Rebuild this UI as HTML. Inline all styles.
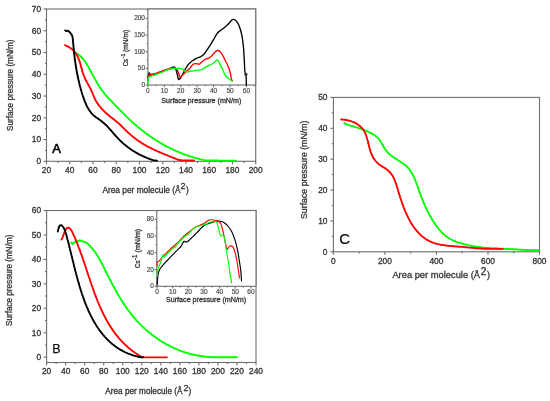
<!DOCTYPE html>
<html><head><meta charset="utf-8"><style>
html,body{margin:0;padding:0;background:#fff;width:550px;height:401px;overflow:hidden}
svg{display:block;filter:blur(0.3px)}
text{font-family:'Liberation Sans', Arial, Helvetica, sans-serif;fill:#333;stroke:#333;stroke-width:0.3px}
text.it{fill:#444;stroke:#444;stroke-width:0.15px}
</style></head><body>
<svg width="550" height="401" viewBox="0 0 550 401">
<rect width="550" height="401" fill="#fff"/>
<rect x="46.5" y="9.0" width="209.20" height="152.30" fill="none" stroke="#6e6e6e" stroke-width="1.1"/>
<line x1="46.50" y1="161.3" x2="46.50" y2="164.3" stroke="#6e6e6e" stroke-width="1.1"/>
<line x1="69.74" y1="161.3" x2="69.74" y2="164.3" stroke="#6e6e6e" stroke-width="1.1"/>
<line x1="92.99" y1="161.3" x2="92.99" y2="164.3" stroke="#6e6e6e" stroke-width="1.1"/>
<line x1="116.23" y1="161.3" x2="116.23" y2="164.3" stroke="#6e6e6e" stroke-width="1.1"/>
<line x1="139.48" y1="161.3" x2="139.48" y2="164.3" stroke="#6e6e6e" stroke-width="1.1"/>
<line x1="162.72" y1="161.3" x2="162.72" y2="164.3" stroke="#6e6e6e" stroke-width="1.1"/>
<line x1="185.97" y1="161.3" x2="185.97" y2="164.3" stroke="#6e6e6e" stroke-width="1.1"/>
<line x1="209.21" y1="161.3" x2="209.21" y2="164.3" stroke="#6e6e6e" stroke-width="1.1"/>
<line x1="232.46" y1="161.3" x2="232.46" y2="164.3" stroke="#6e6e6e" stroke-width="1.1"/>
<line x1="255.70" y1="161.3" x2="255.70" y2="164.3" stroke="#6e6e6e" stroke-width="1.1"/>
<line x1="58.12" y1="161.3" x2="58.12" y2="162.9" stroke="#6e6e6e" stroke-width="1.1"/>
<line x1="81.37" y1="161.3" x2="81.37" y2="162.9" stroke="#6e6e6e" stroke-width="1.1"/>
<line x1="104.61" y1="161.3" x2="104.61" y2="162.9" stroke="#6e6e6e" stroke-width="1.1"/>
<line x1="127.86" y1="161.3" x2="127.86" y2="162.9" stroke="#6e6e6e" stroke-width="1.1"/>
<line x1="151.10" y1="161.3" x2="151.10" y2="162.9" stroke="#6e6e6e" stroke-width="1.1"/>
<line x1="174.34" y1="161.3" x2="174.34" y2="162.9" stroke="#6e6e6e" stroke-width="1.1"/>
<line x1="197.59" y1="161.3" x2="197.59" y2="162.9" stroke="#6e6e6e" stroke-width="1.1"/>
<line x1="220.83" y1="161.3" x2="220.83" y2="162.9" stroke="#6e6e6e" stroke-width="1.1"/>
<line x1="244.08" y1="161.3" x2="244.08" y2="162.9" stroke="#6e6e6e" stroke-width="1.1"/>
<line x1="43.5" y1="161.30" x2="46.5" y2="161.30" stroke="#6e6e6e" stroke-width="1.1"/>
<line x1="43.5" y1="139.54" x2="46.5" y2="139.54" stroke="#6e6e6e" stroke-width="1.1"/>
<line x1="43.5" y1="117.79" x2="46.5" y2="117.79" stroke="#6e6e6e" stroke-width="1.1"/>
<line x1="43.5" y1="96.03" x2="46.5" y2="96.03" stroke="#6e6e6e" stroke-width="1.1"/>
<line x1="43.5" y1="74.27" x2="46.5" y2="74.27" stroke="#6e6e6e" stroke-width="1.1"/>
<line x1="43.5" y1="52.51" x2="46.5" y2="52.51" stroke="#6e6e6e" stroke-width="1.1"/>
<line x1="43.5" y1="30.76" x2="46.5" y2="30.76" stroke="#6e6e6e" stroke-width="1.1"/>
<line x1="43.5" y1="9.00" x2="46.5" y2="9.00" stroke="#6e6e6e" stroke-width="1.1"/>
<line x1="44.9" y1="150.42" x2="46.5" y2="150.42" stroke="#6e6e6e" stroke-width="1.1"/>
<line x1="44.9" y1="128.66" x2="46.5" y2="128.66" stroke="#6e6e6e" stroke-width="1.1"/>
<line x1="44.9" y1="106.91" x2="46.5" y2="106.91" stroke="#6e6e6e" stroke-width="1.1"/>
<line x1="44.9" y1="85.15" x2="46.5" y2="85.15" stroke="#6e6e6e" stroke-width="1.1"/>
<line x1="44.9" y1="63.39" x2="46.5" y2="63.39" stroke="#6e6e6e" stroke-width="1.1"/>
<line x1="44.9" y1="41.64" x2="46.5" y2="41.64" stroke="#6e6e6e" stroke-width="1.1"/>
<line x1="44.9" y1="19.88" x2="46.5" y2="19.88" stroke="#6e6e6e" stroke-width="1.1"/>
<text x="46.50" y="172.9" font-size="8.4" text-anchor="middle">20</text>
<text x="69.74" y="172.9" font-size="8.4" text-anchor="middle">40</text>
<text x="92.99" y="172.9" font-size="8.4" text-anchor="middle">60</text>
<text x="116.23" y="172.9" font-size="8.4" text-anchor="middle">80</text>
<text x="139.48" y="172.9" font-size="8.4" text-anchor="middle">100</text>
<text x="162.72" y="172.9" font-size="8.4" text-anchor="middle">120</text>
<text x="185.97" y="172.9" font-size="8.4" text-anchor="middle">140</text>
<text x="209.21" y="172.9" font-size="8.4" text-anchor="middle">160</text>
<text x="232.46" y="172.9" font-size="8.4" text-anchor="middle">180</text>
<text x="255.70" y="172.9" font-size="8.4" text-anchor="middle">200</text>
<text x="41.2" y="164.16" font-size="8.4" text-anchor="end">0</text>
<text x="41.2" y="142.40" font-size="8.4" text-anchor="end">10</text>
<text x="41.2" y="120.64" font-size="8.4" text-anchor="end">20</text>
<text x="41.2" y="98.88" font-size="8.4" text-anchor="end">30</text>
<text x="41.2" y="77.13" font-size="8.4" text-anchor="end">40</text>
<text x="41.2" y="55.37" font-size="8.4" text-anchor="end">50</text>
<text x="41.2" y="33.61" font-size="8.4" text-anchor="end">60</text>
<text x="41.2" y="11.86" font-size="8.4" text-anchor="end">70</text>
<rect x="147.9" y="9.0" width="107.80" height="76.00" fill="#fff"/>
<rect x="147.9" y="9.0" width="107.80" height="76.00" fill="none" stroke="#6e6e6e" stroke-width="1.1"/>
<line x1="147.90" y1="85.0" x2="147.90" y2="87.2" stroke="#6e6e6e" stroke-width="1.1"/>
<line x1="164.32" y1="85.0" x2="164.32" y2="87.2" stroke="#6e6e6e" stroke-width="1.1"/>
<line x1="180.74" y1="85.0" x2="180.74" y2="87.2" stroke="#6e6e6e" stroke-width="1.1"/>
<line x1="197.16" y1="85.0" x2="197.16" y2="87.2" stroke="#6e6e6e" stroke-width="1.1"/>
<line x1="213.58" y1="85.0" x2="213.58" y2="87.2" stroke="#6e6e6e" stroke-width="1.1"/>
<line x1="230.00" y1="85.0" x2="230.00" y2="87.2" stroke="#6e6e6e" stroke-width="1.1"/>
<line x1="246.42" y1="85.0" x2="246.42" y2="87.2" stroke="#6e6e6e" stroke-width="1.1"/>
<line x1="156.11" y1="85.0" x2="156.11" y2="86.2" stroke="#6e6e6e" stroke-width="1.1"/>
<line x1="172.53" y1="85.0" x2="172.53" y2="86.2" stroke="#6e6e6e" stroke-width="1.1"/>
<line x1="188.95" y1="85.0" x2="188.95" y2="86.2" stroke="#6e6e6e" stroke-width="1.1"/>
<line x1="205.37" y1="85.0" x2="205.37" y2="86.2" stroke="#6e6e6e" stroke-width="1.1"/>
<line x1="221.79" y1="85.0" x2="221.79" y2="86.2" stroke="#6e6e6e" stroke-width="1.1"/>
<line x1="238.21" y1="85.0" x2="238.21" y2="86.2" stroke="#6e6e6e" stroke-width="1.1"/>
<line x1="254.63" y1="85.0" x2="254.63" y2="86.2" stroke="#6e6e6e" stroke-width="1.1"/>
<line x1="145.70000000000002" y1="85.00" x2="147.9" y2="85.00" stroke="#6e6e6e" stroke-width="1.1"/>
<line x1="145.70000000000002" y1="68.38" x2="147.9" y2="68.38" stroke="#6e6e6e" stroke-width="1.1"/>
<line x1="145.70000000000002" y1="51.75" x2="147.9" y2="51.75" stroke="#6e6e6e" stroke-width="1.1"/>
<line x1="145.70000000000002" y1="35.12" x2="147.9" y2="35.12" stroke="#6e6e6e" stroke-width="1.1"/>
<line x1="145.70000000000002" y1="18.50" x2="147.9" y2="18.50" stroke="#6e6e6e" stroke-width="1.1"/>
<line x1="146.70000000000002" y1="76.69" x2="147.9" y2="76.69" stroke="#6e6e6e" stroke-width="1.1"/>
<line x1="146.70000000000002" y1="60.06" x2="147.9" y2="60.06" stroke="#6e6e6e" stroke-width="1.1"/>
<line x1="146.70000000000002" y1="43.44" x2="147.9" y2="43.44" stroke="#6e6e6e" stroke-width="1.1"/>
<line x1="146.70000000000002" y1="26.81" x2="147.9" y2="26.81" stroke="#6e6e6e" stroke-width="1.1"/>
<line x1="146.70000000000002" y1="10.19" x2="147.9" y2="10.19" stroke="#6e6e6e" stroke-width="1.1"/>
<text class="it" x="147.90" y="93.0" font-size="6.5" text-anchor="middle">0</text>
<text class="it" x="164.32" y="93.0" font-size="6.5" text-anchor="middle">10</text>
<text class="it" x="180.74" y="93.0" font-size="6.5" text-anchor="middle">20</text>
<text class="it" x="197.16" y="93.0" font-size="6.5" text-anchor="middle">30</text>
<text class="it" x="213.58" y="93.0" font-size="6.5" text-anchor="middle">40</text>
<text class="it" x="230.00" y="93.0" font-size="6.5" text-anchor="middle">50</text>
<text class="it" x="246.42" y="93.0" font-size="6.5" text-anchor="middle">60</text>
<text class="it" x="145.0" y="86.95" font-size="6.5" text-anchor="end">0</text>
<text class="it" x="145.0" y="70.33" font-size="6.5" text-anchor="end">50</text>
<text class="it" x="145.0" y="53.70" font-size="6.5" text-anchor="end">100</text>
<text class="it" x="145.0" y="37.08" font-size="6.5" text-anchor="end">150</text>
<text class="it" x="145.0" y="20.45" font-size="6.5" text-anchor="end">200</text>
<rect x="46.6" y="210.5" width="209.40" height="152.00" fill="none" stroke="#6e6e6e" stroke-width="1.1"/>
<line x1="46.60" y1="362.5" x2="46.60" y2="365.5" stroke="#6e6e6e" stroke-width="1.1"/>
<line x1="65.64" y1="362.5" x2="65.64" y2="365.5" stroke="#6e6e6e" stroke-width="1.1"/>
<line x1="84.67" y1="362.5" x2="84.67" y2="365.5" stroke="#6e6e6e" stroke-width="1.1"/>
<line x1="103.71" y1="362.5" x2="103.71" y2="365.5" stroke="#6e6e6e" stroke-width="1.1"/>
<line x1="122.75" y1="362.5" x2="122.75" y2="365.5" stroke="#6e6e6e" stroke-width="1.1"/>
<line x1="141.78" y1="362.5" x2="141.78" y2="365.5" stroke="#6e6e6e" stroke-width="1.1"/>
<line x1="160.82" y1="362.5" x2="160.82" y2="365.5" stroke="#6e6e6e" stroke-width="1.1"/>
<line x1="179.85" y1="362.5" x2="179.85" y2="365.5" stroke="#6e6e6e" stroke-width="1.1"/>
<line x1="198.89" y1="362.5" x2="198.89" y2="365.5" stroke="#6e6e6e" stroke-width="1.1"/>
<line x1="217.93" y1="362.5" x2="217.93" y2="365.5" stroke="#6e6e6e" stroke-width="1.1"/>
<line x1="236.96" y1="362.5" x2="236.96" y2="365.5" stroke="#6e6e6e" stroke-width="1.1"/>
<line x1="256.00" y1="362.5" x2="256.00" y2="365.5" stroke="#6e6e6e" stroke-width="1.1"/>
<line x1="56.12" y1="362.5" x2="56.12" y2="364.1" stroke="#6e6e6e" stroke-width="1.1"/>
<line x1="75.15" y1="362.5" x2="75.15" y2="364.1" stroke="#6e6e6e" stroke-width="1.1"/>
<line x1="94.19" y1="362.5" x2="94.19" y2="364.1" stroke="#6e6e6e" stroke-width="1.1"/>
<line x1="113.23" y1="362.5" x2="113.23" y2="364.1" stroke="#6e6e6e" stroke-width="1.1"/>
<line x1="132.26" y1="362.5" x2="132.26" y2="364.1" stroke="#6e6e6e" stroke-width="1.1"/>
<line x1="151.30" y1="362.5" x2="151.30" y2="364.1" stroke="#6e6e6e" stroke-width="1.1"/>
<line x1="170.34" y1="362.5" x2="170.34" y2="364.1" stroke="#6e6e6e" stroke-width="1.1"/>
<line x1="189.37" y1="362.5" x2="189.37" y2="364.1" stroke="#6e6e6e" stroke-width="1.1"/>
<line x1="208.41" y1="362.5" x2="208.41" y2="364.1" stroke="#6e6e6e" stroke-width="1.1"/>
<line x1="227.45" y1="362.5" x2="227.45" y2="364.1" stroke="#6e6e6e" stroke-width="1.1"/>
<line x1="246.48" y1="362.5" x2="246.48" y2="364.1" stroke="#6e6e6e" stroke-width="1.1"/>
<line x1="43.6" y1="357.20" x2="46.6" y2="357.20" stroke="#6e6e6e" stroke-width="1.1"/>
<line x1="43.6" y1="332.75" x2="46.6" y2="332.75" stroke="#6e6e6e" stroke-width="1.1"/>
<line x1="43.6" y1="308.30" x2="46.6" y2="308.30" stroke="#6e6e6e" stroke-width="1.1"/>
<line x1="43.6" y1="283.85" x2="46.6" y2="283.85" stroke="#6e6e6e" stroke-width="1.1"/>
<line x1="43.6" y1="259.40" x2="46.6" y2="259.40" stroke="#6e6e6e" stroke-width="1.1"/>
<line x1="43.6" y1="234.95" x2="46.6" y2="234.95" stroke="#6e6e6e" stroke-width="1.1"/>
<line x1="43.6" y1="210.50" x2="46.6" y2="210.50" stroke="#6e6e6e" stroke-width="1.1"/>
<line x1="45.0" y1="344.97" x2="46.6" y2="344.97" stroke="#6e6e6e" stroke-width="1.1"/>
<line x1="45.0" y1="320.52" x2="46.6" y2="320.52" stroke="#6e6e6e" stroke-width="1.1"/>
<line x1="45.0" y1="296.07" x2="46.6" y2="296.07" stroke="#6e6e6e" stroke-width="1.1"/>
<line x1="45.0" y1="271.62" x2="46.6" y2="271.62" stroke="#6e6e6e" stroke-width="1.1"/>
<line x1="45.0" y1="247.18" x2="46.6" y2="247.18" stroke="#6e6e6e" stroke-width="1.1"/>
<line x1="45.0" y1="222.72" x2="46.6" y2="222.72" stroke="#6e6e6e" stroke-width="1.1"/>
<text x="46.60" y="373.8" font-size="8.4" text-anchor="middle">20</text>
<text x="65.64" y="373.8" font-size="8.4" text-anchor="middle">40</text>
<text x="84.67" y="373.8" font-size="8.4" text-anchor="middle">60</text>
<text x="103.71" y="373.8" font-size="8.4" text-anchor="middle">80</text>
<text x="122.75" y="373.8" font-size="8.4" text-anchor="middle">100</text>
<text x="141.78" y="373.8" font-size="8.4" text-anchor="middle">120</text>
<text x="160.82" y="373.8" font-size="8.4" text-anchor="middle">140</text>
<text x="179.85" y="373.8" font-size="8.4" text-anchor="middle">160</text>
<text x="198.89" y="373.8" font-size="8.4" text-anchor="middle">180</text>
<text x="217.93" y="373.8" font-size="8.4" text-anchor="middle">200</text>
<text x="236.96" y="373.8" font-size="8.4" text-anchor="middle">220</text>
<text x="256.00" y="373.8" font-size="8.4" text-anchor="middle">240</text>
<text x="41.2" y="360.06" font-size="8.4" text-anchor="end">0</text>
<text x="41.2" y="335.61" font-size="8.4" text-anchor="end">10</text>
<text x="41.2" y="311.16" font-size="8.4" text-anchor="end">20</text>
<text x="41.2" y="286.71" font-size="8.4" text-anchor="end">30</text>
<text x="41.2" y="262.26" font-size="8.4" text-anchor="end">40</text>
<text x="41.2" y="237.81" font-size="8.4" text-anchor="end">50</text>
<text x="41.2" y="213.36" font-size="8.4" text-anchor="end">60</text>
<rect x="156.8" y="210.5" width="99.20" height="75.80" fill="#fff"/>
<rect x="156.8" y="210.5" width="99.20" height="75.80" fill="none" stroke="#6e6e6e" stroke-width="1.1"/>
<line x1="157.00" y1="286.3" x2="157.00" y2="288.5" stroke="#6e6e6e" stroke-width="1.1"/>
<line x1="172.65" y1="286.3" x2="172.65" y2="288.5" stroke="#6e6e6e" stroke-width="1.1"/>
<line x1="188.30" y1="286.3" x2="188.30" y2="288.5" stroke="#6e6e6e" stroke-width="1.1"/>
<line x1="203.95" y1="286.3" x2="203.95" y2="288.5" stroke="#6e6e6e" stroke-width="1.1"/>
<line x1="219.60" y1="286.3" x2="219.60" y2="288.5" stroke="#6e6e6e" stroke-width="1.1"/>
<line x1="235.25" y1="286.3" x2="235.25" y2="288.5" stroke="#6e6e6e" stroke-width="1.1"/>
<line x1="250.90" y1="286.3" x2="250.90" y2="288.5" stroke="#6e6e6e" stroke-width="1.1"/>
<line x1="164.82" y1="286.3" x2="164.82" y2="287.5" stroke="#6e6e6e" stroke-width="1.1"/>
<line x1="180.47" y1="286.3" x2="180.47" y2="287.5" stroke="#6e6e6e" stroke-width="1.1"/>
<line x1="196.12" y1="286.3" x2="196.12" y2="287.5" stroke="#6e6e6e" stroke-width="1.1"/>
<line x1="211.78" y1="286.3" x2="211.78" y2="287.5" stroke="#6e6e6e" stroke-width="1.1"/>
<line x1="227.43" y1="286.3" x2="227.43" y2="287.5" stroke="#6e6e6e" stroke-width="1.1"/>
<line x1="243.07" y1="286.3" x2="243.07" y2="287.5" stroke="#6e6e6e" stroke-width="1.1"/>
<line x1="154.60000000000002" y1="286.30" x2="156.8" y2="286.30" stroke="#6e6e6e" stroke-width="1.1"/>
<line x1="154.60000000000002" y1="269.55" x2="156.8" y2="269.55" stroke="#6e6e6e" stroke-width="1.1"/>
<line x1="154.60000000000002" y1="252.80" x2="156.8" y2="252.80" stroke="#6e6e6e" stroke-width="1.1"/>
<line x1="154.60000000000002" y1="236.05" x2="156.8" y2="236.05" stroke="#6e6e6e" stroke-width="1.1"/>
<line x1="154.60000000000002" y1="219.30" x2="156.8" y2="219.30" stroke="#6e6e6e" stroke-width="1.1"/>
<line x1="155.60000000000002" y1="277.93" x2="156.8" y2="277.93" stroke="#6e6e6e" stroke-width="1.1"/>
<line x1="155.60000000000002" y1="261.18" x2="156.8" y2="261.18" stroke="#6e6e6e" stroke-width="1.1"/>
<line x1="155.60000000000002" y1="244.43" x2="156.8" y2="244.43" stroke="#6e6e6e" stroke-width="1.1"/>
<line x1="155.60000000000002" y1="227.68" x2="156.8" y2="227.68" stroke="#6e6e6e" stroke-width="1.1"/>
<text class="it" x="157.00" y="294.2" font-size="6.5" text-anchor="middle">0</text>
<text class="it" x="172.65" y="294.2" font-size="6.5" text-anchor="middle">10</text>
<text class="it" x="188.30" y="294.2" font-size="6.5" text-anchor="middle">20</text>
<text class="it" x="203.95" y="294.2" font-size="6.5" text-anchor="middle">30</text>
<text class="it" x="219.60" y="294.2" font-size="6.5" text-anchor="middle">40</text>
<text class="it" x="235.25" y="294.2" font-size="6.5" text-anchor="middle">50</text>
<text class="it" x="250.90" y="294.2" font-size="6.5" text-anchor="middle">60</text>
<text class="it" x="153.9" y="288.25" font-size="6.5" text-anchor="end">0</text>
<text class="it" x="153.9" y="271.50" font-size="6.5" text-anchor="end">20</text>
<text class="it" x="153.9" y="254.75" font-size="6.5" text-anchor="end">40</text>
<text class="it" x="153.9" y="238.00" font-size="6.5" text-anchor="end">60</text>
<text class="it" x="153.9" y="221.25" font-size="6.5" text-anchor="end">80</text>
<rect x="333.4" y="97.4" width="206.10" height="154.40" fill="none" stroke="#6e6e6e" stroke-width="1.1"/>
<line x1="333.40" y1="251.8" x2="333.40" y2="254.8" stroke="#6e6e6e" stroke-width="1.1"/>
<line x1="384.92" y1="251.8" x2="384.92" y2="254.8" stroke="#6e6e6e" stroke-width="1.1"/>
<line x1="436.45" y1="251.8" x2="436.45" y2="254.8" stroke="#6e6e6e" stroke-width="1.1"/>
<line x1="487.98" y1="251.8" x2="487.98" y2="254.8" stroke="#6e6e6e" stroke-width="1.1"/>
<line x1="539.50" y1="251.8" x2="539.50" y2="254.8" stroke="#6e6e6e" stroke-width="1.1"/>
<line x1="359.16" y1="251.8" x2="359.16" y2="253.4" stroke="#6e6e6e" stroke-width="1.1"/>
<line x1="410.69" y1="251.8" x2="410.69" y2="253.4" stroke="#6e6e6e" stroke-width="1.1"/>
<line x1="462.21" y1="251.8" x2="462.21" y2="253.4" stroke="#6e6e6e" stroke-width="1.1"/>
<line x1="513.74" y1="251.8" x2="513.74" y2="253.4" stroke="#6e6e6e" stroke-width="1.1"/>
<line x1="330.4" y1="251.80" x2="333.4" y2="251.80" stroke="#6e6e6e" stroke-width="1.1"/>
<line x1="330.4" y1="220.92" x2="333.4" y2="220.92" stroke="#6e6e6e" stroke-width="1.1"/>
<line x1="330.4" y1="190.04" x2="333.4" y2="190.04" stroke="#6e6e6e" stroke-width="1.1"/>
<line x1="330.4" y1="159.16" x2="333.4" y2="159.16" stroke="#6e6e6e" stroke-width="1.1"/>
<line x1="330.4" y1="128.28" x2="333.4" y2="128.28" stroke="#6e6e6e" stroke-width="1.1"/>
<line x1="330.4" y1="97.40" x2="333.4" y2="97.40" stroke="#6e6e6e" stroke-width="1.1"/>
<line x1="331.79999999999995" y1="236.36" x2="333.4" y2="236.36" stroke="#6e6e6e" stroke-width="1.1"/>
<line x1="331.79999999999995" y1="205.48" x2="333.4" y2="205.48" stroke="#6e6e6e" stroke-width="1.1"/>
<line x1="331.79999999999995" y1="174.60" x2="333.4" y2="174.60" stroke="#6e6e6e" stroke-width="1.1"/>
<line x1="331.79999999999995" y1="143.72" x2="333.4" y2="143.72" stroke="#6e6e6e" stroke-width="1.1"/>
<line x1="331.79999999999995" y1="112.84" x2="333.4" y2="112.84" stroke="#6e6e6e" stroke-width="1.1"/>
<text x="333.40" y="263.5" font-size="8.4" text-anchor="middle">0</text>
<text x="384.92" y="263.5" font-size="8.4" text-anchor="middle">200</text>
<text x="436.45" y="263.5" font-size="8.4" text-anchor="middle">400</text>
<text x="487.98" y="263.5" font-size="8.4" text-anchor="middle">600</text>
<text x="539.50" y="263.5" font-size="8.4" text-anchor="middle">800</text>
<text x="327.5" y="254.66" font-size="8.4" text-anchor="end">0</text>
<text x="327.5" y="223.78" font-size="8.4" text-anchor="end">10</text>
<text x="327.5" y="192.90" font-size="8.4" text-anchor="end">20</text>
<text x="327.5" y="162.02" font-size="8.4" text-anchor="end">30</text>
<text x="327.5" y="131.14" font-size="8.4" text-anchor="end">40</text>
<text x="327.5" y="100.26" font-size="8.4" text-anchor="end">50</text>
<path d="M74.8 52.2L75.7 52.7L76.5 53.2L77.4 53.8L78.2 54.4L79.0 55.0L79.7 55.6L80.5 56.3L81.2 57.0L81.9 57.7L82.6 58.5L83.2 59.2L83.8 60.0L84.4 60.8L85.0 61.6L85.6 62.5L86.2 63.3L86.7 64.1L87.2 65.0L87.7 65.8L88.3 66.7L88.7 67.6L89.2 68.5L89.7 69.3L90.2 70.2L90.7 71.1L91.1 72.0L91.6 72.9L92.1 73.8L92.5 74.6L93.0 75.5L93.5 76.4L94.0 77.3L94.4 78.2L94.9 79.1L95.4 79.9L95.9 80.8L96.4 81.7L96.9 82.6L97.4 83.4L97.9 84.3L98.4 85.1L99.0 86.0L99.5 86.8L100.1 87.7L100.6 88.5L101.2 89.3L101.8 90.1L102.4 90.9L103.0 91.7L103.7 92.5L104.3 93.3L104.9 94.0L105.6 94.8L106.2 95.6L106.9 96.3L107.6 97.1L108.2 97.8L108.9 98.5L109.6 99.3L110.3 100.0L111.0 100.7L111.6 101.5L112.3 102.2L113.0 102.9L113.7 103.6L114.4 104.4L115.1 105.1L115.8 105.8L116.5 106.5L117.2 107.2L117.9 107.9L118.6 108.7L119.3 109.4L120.0 110.1L120.7 110.8L121.4 111.5L122.1 112.2L122.9 113.0L123.6 113.7L124.3 114.4L125.0 115.1L125.7 115.8L126.4 116.5L127.1 117.2L127.8 117.9L128.6 118.6L129.3 119.3L130.0 120.0L130.8 120.6L131.5 121.3L132.2 122.0L133.0 122.7L133.7 123.3L134.5 124.0L135.2 124.7L136.0 125.3L136.8 126.0L137.5 126.6L138.3 127.3L139.1 127.9L139.8 128.5L140.6 129.2L141.4 129.8L142.2 130.4L143.0 131.0L143.8 131.6L144.6 132.3L145.4 132.9L146.2 133.5L147.0 134.1L147.8 134.6L148.6 135.2L149.4 135.8L150.2 136.4L151.1 137.0L151.9 137.5L152.7 138.1L153.6 138.6L154.4 139.2L155.2 139.7L156.1 140.3L156.9 140.8L157.8 141.3L158.6 141.9L159.5 142.4L160.4 142.9L161.2 143.4L162.1 143.9L163.0 144.4L163.8 144.9L164.7 145.4L165.6 145.8L166.5 146.3L167.4 146.8L168.3 147.2L169.2 147.7L170.1 148.1L171.0 148.6L171.9 149.0L172.8 149.5L173.7 149.9L174.6 150.3L175.5 150.7L176.4 151.1L177.3 151.5L178.3 151.9L179.2 152.3L180.1 152.7L181.0 153.0L182.0 153.4L182.9 153.8L183.8 154.1L184.8 154.5L185.7 154.8L186.7 155.1L187.6 155.5L188.6 155.8L189.5 156.1L190.5 156.4L191.4 156.7L192.4 157.0L193.3 157.3L194.3 157.6L195.3 157.9L196.2 158.1L197.2 158.4L198.2 158.7L199.1 158.9L200.1 159.2L201.1 159.4L202.1 159.6L203.0 159.9L204.0 160.1L205.0 160.3L205.1 160.3L205.1 160.3L205.0 160.4L205.2 160.4L205.7 160.4L206.8 160.5L208.6 160.5L208.9 160.5L209.2 160.5L209.6 160.5L209.9 160.5L210.3 160.5L210.8 160.5L211.2 160.5L211.6 160.5L212.1 160.5L212.6 160.5L213.1 160.5L213.6 160.5L214.1 160.5L214.7 160.5L215.3 160.5L215.8 160.5L216.4 160.5L217.0 160.5L217.6 160.5L218.2 160.5L218.8 160.6L219.4 160.6L220.0 160.6L220.6 160.6L221.3 160.6L221.9 160.6L222.5 160.6L223.2 160.6L223.8 160.6L224.4 160.6L225.0 160.6L225.6 160.6L226.2 160.6L226.8 160.6L227.4 160.6L228.0 160.6L228.6 160.6L229.2 160.6L229.7 160.6L230.3 160.6L230.8 160.6L231.3 160.6L231.8 160.6L232.3 160.6L232.7 160.6L233.2 160.6L233.6 160.6L234.0 160.6L234.4 160.6L234.8 160.6L235.1 160.6L235.4 160.6L235.7 160.6L236.0 160.6" fill="none" stroke="#00ff00" stroke-width="1.9" stroke-linejoin="round" stroke-linecap="round"/>
<path d="M65.0 45.2L65.9 45.6L66.8 46.0L67.7 46.4L68.6 46.9L69.5 47.5L70.3 48.0L71.1 48.6L71.9 49.2L72.7 49.9L73.4 50.6L74.1 51.3L74.7 52.1L75.3 52.9L75.9 53.7L76.5 54.5L77.0 55.4L77.5 56.3L77.9 57.2L78.3 58.1L78.7 59.0L79.1 60.0L79.4 60.9L79.7 61.9L80.0 62.8L80.3 63.8L80.6 64.7L80.8 65.7L81.1 66.7L81.4 67.7L81.6 68.6L81.9 69.6L82.2 70.6L82.4 71.5L82.7 72.5L83.0 73.4L83.4 74.4L83.7 75.3L84.1 76.3L84.5 77.2L84.9 78.1L85.3 79.0L85.7 79.9L86.2 80.8L86.7 81.7L87.1 82.6L87.6 83.5L88.1 84.3L88.6 85.2L89.1 86.1L89.5 87.0L90.0 87.9L90.5 88.8L90.9 89.7L91.4 90.6L91.8 91.5L92.2 92.4L92.5 93.3L92.9 94.3L93.3 95.2L93.7 96.1L94.1 97.1L94.5 98.0L94.9 98.9L95.3 99.8L95.8 100.7L96.3 101.5L96.8 102.4L97.4 103.2L98.0 104.1L98.5 104.9L99.2 105.7L99.8 106.5L100.4 107.2L101.1 108.0L101.7 108.7L102.4 109.5L103.1 110.2L103.8 110.9L104.5 111.6L105.3 112.3L106.0 113.0L106.8 113.7L107.5 114.3L108.3 115.0L109.0 115.6L109.8 116.3L110.6 116.9L111.4 117.5L112.2 118.1L113.0 118.7L113.8 119.3L114.6 120.0L115.4 120.6L116.1 121.2L116.9 121.9L117.7 122.5L118.4 123.2L119.2 123.9L119.9 124.5L120.6 125.2L121.3 125.9L122.1 126.7L122.8 127.4L123.5 128.1L124.2 128.8L124.9 129.5L125.6 130.2L126.4 130.9L127.1 131.6L127.8 132.3L128.6 132.9L129.3 133.6L130.1 134.3L130.8 134.9L131.6 135.6L132.3 136.2L133.1 136.9L133.9 137.5L134.7 138.1L135.5 138.7L136.3 139.3L137.1 139.9L137.9 140.5L138.7 141.1L139.6 141.6L140.4 142.2L141.3 142.7L142.1 143.3L143.0 143.8L143.8 144.3L144.7 144.8L145.6 145.3L146.4 145.8L147.3 146.3L148.2 146.8L149.1 147.2L150.0 147.7L150.9 148.1L151.8 148.6L152.7 149.0L153.6 149.5L154.5 149.9L155.4 150.3L156.3 150.7L157.2 151.1L158.2 151.5L159.1 151.9L160.0 152.3L160.9 152.7L161.8 153.1L162.8 153.5L163.7 153.9L164.6 154.3L165.6 154.7L166.5 155.0L167.4 155.4L168.3 155.8L169.3 156.2L170.2 156.5L171.1 156.9L172.1 157.3L173.0 157.7L173.9 158.0L174.9 158.4L175.8 158.8L176.7 159.1L177.7 159.5L178.6 159.9L178.9 159.9L179.2 160.0L179.6 160.0L180.0 160.1L180.5 160.2L181.0 160.2L181.7 160.3L182.4 160.4L183.2 160.4L183.6 160.4L184.0 160.4L184.5 160.4L185.0 160.4L185.6 160.5L186.1 160.5L186.7 160.5L187.3 160.5L188.0 160.5L188.6 160.5L189.2 160.5L189.8 160.5L190.4 160.5L191.0 160.5L191.5 160.5L192.0 160.5L192.5 160.5L193.0 160.5L193.4 160.5L193.7 160.5L194.0 160.5" fill="none" stroke="#ff0000" stroke-width="1.9" stroke-linejoin="round" stroke-linecap="round"/>
<path d="M65.2 30.4L65.8 30.8L66.5 31.1L67.2 30.9L67.9 30.7L68.7 31.3L69.0 31.6L69.5 32.0L69.9 32.4L70.3 32.9L70.6 33.3L70.9 33.7L71.2 34.1L71.5 34.5L71.8 35.0L72.0 35.4L72.2 35.9L72.3 36.4L72.5 36.9L72.6 37.5L72.7 38.1L72.8 38.6L72.8 39.1L72.9 39.7L72.9 40.2L73.0 40.8L73.0 41.4L73.1 41.9L73.1 42.5L73.2 43.1L73.2 43.7L73.3 44.3L73.3 44.9L73.4 45.5L73.4 46.0L73.5 46.5L73.5 46.8L73.6 47.8L73.7 48.8L73.8 49.8L73.9 50.8L74.0 51.8L74.1 52.8L74.2 53.8L74.3 54.8L74.4 55.8L74.6 56.8L74.7 57.8L74.8 58.8L74.9 59.8L75.1 60.8L75.2 61.8L75.4 62.8L75.5 63.8L75.6 64.8L75.8 65.8L76.0 66.8L76.1 67.8L76.3 68.8L76.5 69.7L76.6 70.7L76.8 71.7L77.0 72.7L77.2 73.7L77.4 74.7L77.6 75.7L77.8 76.7L78.0 77.7L78.2 78.6L78.4 79.6L78.6 80.6L78.9 81.6L79.1 82.6L79.3 83.5L79.6 84.5L79.8 85.5L80.1 86.5L80.4 87.4L80.6 88.4L80.9 89.4L81.2 90.3L81.4 91.3L81.7 92.3L82.0 93.2L82.3 94.2L82.6 95.1L82.9 96.1L83.3 97.1L83.6 98.0L83.9 99.0L84.3 99.9L84.6 100.8L85.0 101.8L85.4 102.7L85.8 103.6L86.2 104.6L86.6 105.5L87.0 106.4L87.5 107.3L88.0 108.1L88.5 109.0L89.0 109.9L89.6 110.7L90.2 111.5L90.8 112.3L91.4 113.1L92.1 113.8L92.8 114.6L93.5 115.3L94.3 115.9L95.1 116.5L95.9 117.2L96.7 117.8L97.5 118.3L98.3 118.9L99.2 119.5L100.0 120.1L100.8 120.6L101.6 121.2L102.4 121.9L103.2 122.5L104.0 123.2L104.7 123.8L105.4 124.5L106.2 125.2L106.9 125.9L107.6 126.7L108.2 127.4L108.9 128.2L109.6 128.9L110.3 129.7L110.9 130.4L111.6 131.2L112.2 131.9L112.9 132.7L113.5 133.5L114.2 134.2L114.9 135.0L115.5 135.7L116.2 136.5L116.9 137.2L117.6 137.9L118.3 138.7L119.0 139.4L119.7 140.1L120.4 140.8L121.2 141.5L121.9 142.2L122.6 142.9L123.4 143.5L124.1 144.2L124.9 144.8L125.7 145.5L126.5 146.1L127.3 146.7L128.1 147.3L128.9 147.9L129.7 148.5L130.5 149.1L131.4 149.7L132.2 150.2L133.0 150.8L133.9 151.3L134.7 151.8L135.6 152.3L136.5 152.8L137.4 153.3L138.2 153.8L139.1 154.3L140.0 154.8L140.9 155.2L141.8 155.7L142.7 156.1L143.6 156.5L144.6 156.9L145.5 157.3L146.4 157.7L147.4 158.1L148.3 158.4L149.2 158.8L150.2 159.1L151.1 159.5L152.1 159.8L153.0 160.1L154.0 160.4L154.4 160.4L154.9 160.5L155.5 160.5L156.1 160.6L156.6 160.7L157.0 160.7" fill="none" stroke="#000" stroke-width="1.9" stroke-linejoin="round" stroke-linecap="round"/>
<path d="M148.30 80.00C148.30 79.37 148.12 77.38 148.30 76.20C148.48 75.02 149.03 73.00 149.40 72.90C149.77 72.80 149.42 75.45 150.50 75.60C151.58 75.75 154.08 74.43 155.90 73.80C157.72 73.17 159.58 72.50 161.40 71.80C163.22 71.10 165.17 70.23 166.80 69.60C168.43 68.97 170.02 68.45 171.20 68.00C172.38 67.55 173.18 66.82 173.90 66.90C174.62 66.98 174.95 67.32 175.50 68.50C176.05 69.68 176.73 72.27 177.20 74.00C177.67 75.73 178.00 78.00 178.30 78.90C178.60 79.80 178.63 79.55 179.00 79.40C179.37 79.25 179.93 78.77 180.50 78.00C181.07 77.23 181.62 76.23 182.40 74.80C183.18 73.37 184.27 71.05 185.20 69.40C186.13 67.75 187.15 66.05 188.00 64.90C188.85 63.75 189.55 63.18 190.30 62.50C191.05 61.82 191.48 61.50 192.50 60.80C193.52 60.10 195.10 58.95 196.40 58.30C197.70 57.65 199.08 57.52 200.30 56.90C201.52 56.28 202.92 55.28 203.70 54.60C204.48 53.92 204.05 54.17 205.00 52.80C205.95 51.43 207.95 48.63 209.40 46.40C210.85 44.17 212.40 41.58 213.70 39.40C215.00 37.22 216.15 34.73 217.20 33.30C218.25 31.87 219.12 31.52 220.00 30.80C220.88 30.08 221.37 29.88 222.50 29.00C223.63 28.12 225.78 26.38 226.80 25.50C227.82 24.62 227.98 24.38 228.60 23.70C229.22 23.02 229.93 22.03 230.50 21.40C231.07 20.77 231.45 20.23 232.00 19.90C232.55 19.57 233.07 19.20 233.80 19.40C234.53 19.60 235.53 20.08 236.40 21.10C237.27 22.12 238.13 23.32 239.00 25.50C239.87 27.68 240.87 30.72 241.60 34.20C242.33 37.68 242.95 42.03 243.40 46.40C243.85 50.77 244.07 56.33 244.30 60.40C244.53 64.47 244.58 68.53 244.80 70.80C245.02 73.07 245.38 73.05 245.60 74.00C245.82 74.95 245.98 75.00 246.10 76.50C246.22 78.00 246.27 81.58 246.30 83.00C246.33 84.42 246.30 84.67 246.30 85.00" fill="none" stroke="#000" stroke-width="1.35" stroke-linejoin="round" stroke-linecap="round"/>
<path d="M148.30 78.00C148.30 77.70 147.93 76.78 148.30 76.20C148.67 75.62 149.23 74.97 150.50 74.50C151.77 74.03 154.08 73.93 155.90 73.40C157.72 72.87 159.58 71.93 161.40 71.30C163.22 70.67 165.17 70.07 166.80 69.60C168.43 69.13 169.93 68.77 171.20 68.50C172.47 68.23 173.50 67.90 174.40 68.00C175.30 68.10 175.95 68.37 176.60 69.10C177.25 69.83 177.75 71.13 178.30 72.40C178.85 73.67 179.37 76.07 179.90 76.70C180.43 77.33 180.87 76.65 181.50 76.20C182.13 75.75 182.88 74.82 183.70 74.00C184.52 73.18 185.40 72.22 186.40 71.30C187.40 70.38 188.60 69.68 189.70 68.50C190.80 67.32 191.90 65.02 193.00 64.20C194.10 63.38 195.30 63.60 196.30 63.60C197.30 63.60 198.10 64.47 199.00 64.20C199.90 63.93 200.70 62.78 201.70 62.00C202.70 61.22 203.78 60.17 205.00 59.50C206.22 58.83 207.83 58.67 209.00 58.00C210.17 57.33 211.00 56.50 212.00 55.50C213.00 54.50 214.08 52.83 215.00 52.00C215.92 51.17 216.67 50.58 217.50 50.50C218.33 50.42 219.17 50.75 220.00 51.50C220.83 52.25 221.67 53.58 222.50 55.00C223.33 56.42 224.17 58.33 225.00 60.00C225.83 61.67 226.75 63.33 227.50 65.00C228.25 66.67 228.97 68.33 229.50 70.00C230.03 71.67 230.38 73.52 230.70 75.00C231.02 76.48 231.12 77.92 231.40 78.90C231.68 79.88 232.23 80.57 232.40 80.90" fill="none" stroke="#ff0000" stroke-width="1.35" stroke-linejoin="round" stroke-linecap="round"/>
<path d="M148.10 84.50C148.12 83.75 148.12 81.12 148.20 80.00C148.28 78.88 148.40 78.35 148.60 77.80C148.80 77.25 148.18 77.25 149.40 76.70C150.62 76.15 153.90 75.22 155.90 74.50C157.90 73.78 159.58 73.12 161.40 72.40C163.22 71.68 164.98 70.85 166.80 70.20C168.62 69.55 170.85 68.78 172.30 68.50C173.75 68.22 174.23 68.53 175.50 68.50C176.77 68.47 178.75 68.18 179.90 68.30C181.05 68.42 181.62 68.77 182.40 69.20C183.18 69.63 183.95 70.43 184.60 70.90C185.25 71.37 185.55 71.90 186.30 72.00C187.05 72.10 187.88 71.68 189.10 71.50C190.32 71.32 191.92 71.18 193.60 70.90C195.28 70.62 197.70 70.05 199.20 69.80C200.70 69.55 201.63 69.77 202.60 69.40C203.57 69.03 203.73 68.35 205.00 67.60C206.27 66.85 208.75 65.67 210.20 64.90C211.65 64.13 212.53 63.82 213.70 63.00C214.87 62.18 216.18 59.85 217.20 60.00C218.22 60.15 218.92 62.38 219.80 63.90C220.68 65.42 221.62 67.22 222.50 69.10C223.38 70.98 224.23 73.75 225.10 75.20C225.97 76.65 226.83 77.07 227.70 77.80C228.57 78.53 229.58 79.07 230.30 79.60C231.02 80.13 231.72 80.77 232.00 81.00" fill="none" stroke="#00ff00" stroke-width="1.35" stroke-linejoin="round" stroke-linecap="round"/>
<circle cx="245.9" cy="74.3" r="1.6" fill="#333"/>
<path d="M71.5 242.5L71.8 243.0L72.1 243.6L72.5 244.0L72.9 243.7L73.5 243.0L73.9 242.7L74.4 242.4L74.9 242.1L75.5 241.8L76.0 241.6L76.5 241.4L77.0 241.1L77.5 241.0L78.0 240.8L78.6 240.6L79.2 240.5L79.8 240.5L80.4 240.5L80.9 240.6L81.4 240.8L81.9 241.0L82.5 241.3L83.0 241.5L83.5 241.7L84.0 241.8L84.5 242.0L85.1 242.1L85.6 242.3L86.0 242.5L86.5 242.8L87.0 243.1L87.4 243.5L87.7 243.8L88.0 244.0L88.7 244.7L89.4 245.4L90.1 246.1L90.8 246.9L91.5 247.6L92.1 248.4L92.8 249.1L93.4 249.9L94.0 250.7L94.6 251.5L95.2 252.3L95.8 253.2L96.3 254.0L96.9 254.8L97.4 255.7L97.9 256.5L98.5 257.4L99.0 258.3L99.5 259.1L100.0 260.0L100.4 260.9L100.9 261.8L101.4 262.7L101.8 263.6L102.3 264.4L102.8 265.3L103.2 266.2L103.7 267.1L104.1 268.0L104.6 268.9L105.0 269.8L105.4 270.7L105.9 271.6L106.3 272.5L106.8 273.4L107.2 274.3L107.7 275.2L108.1 276.1L108.6 277.0L109.1 277.9L109.5 278.8L110.0 279.7L110.4 280.6L110.9 281.5L111.3 282.4L111.8 283.3L112.3 284.1L112.8 285.0L113.2 285.9L113.7 286.8L114.2 287.7L114.7 288.6L115.1 289.4L115.6 290.3L116.1 291.2L116.6 292.1L117.1 292.9L117.6 293.8L118.1 294.7L118.6 295.5L119.1 296.4L119.6 297.3L120.2 298.1L120.7 299.0L121.2 299.8L121.7 300.7L122.3 301.5L122.8 302.4L123.4 303.2L123.9 304.1L124.5 304.9L125.0 305.7L125.6 306.6L126.2 307.4L126.8 308.2L127.3 309.0L127.9 309.8L128.5 310.6L129.1 311.4L129.7 312.2L130.3 313.0L130.9 313.8L131.6 314.6L132.2 315.4L132.8 316.2L133.5 317.0L134.1 317.7L134.8 318.5L135.4 319.2L136.1 320.0L136.8 320.7L137.5 321.5L138.1 322.2L138.8 322.9L139.5 323.6L140.2 324.4L140.9 325.1L141.7 325.8L142.4 326.5L143.1 327.2L143.8 327.8L144.6 328.5L145.3 329.2L146.1 329.9L146.8 330.5L147.6 331.2L148.4 331.8L149.1 332.5L149.9 333.1L150.7 333.7L151.5 334.3L152.3 335.0L153.1 335.6L153.9 336.2L154.7 336.8L155.5 337.3L156.3 337.9L157.2 338.5L158.0 339.1L158.8 339.6L159.7 340.2L160.5 340.7L161.3 341.2L162.2 341.8L163.1 342.3L163.9 342.8L164.8 343.3L165.7 343.8L166.5 344.3L167.4 344.8L168.3 345.2L169.2 345.7L170.1 346.2L171.0 346.6L171.9 347.1L172.8 347.5L173.7 347.9L174.6 348.3L175.5 348.7L176.5 349.1L177.4 349.5L178.3 349.9L179.2 350.3L180.2 350.6L181.1 351.0L182.1 351.3L183.0 351.7L184.0 352.0L184.9 352.3L185.9 352.6L186.8 352.9L187.8 353.2L188.8 353.5L189.7 353.7L190.7 354.0L191.7 354.2L192.6 354.5L193.6 354.7L194.6 354.9L195.6 355.1L196.6 355.3L197.6 355.5L198.5 355.7L199.5 355.8L200.5 356.0L201.5 356.1L202.5 356.3L203.5 356.4L204.5 356.5L205.5 356.6L205.8 356.6L206.3 356.7L206.8 356.8L207.4 356.9L208.0 357.0L208.6 357.0L209.1 357.1L209.4 357.1L209.5 357.2L209.6 357.2L209.7 357.2L210.2 357.3L211.1 357.3L212.7 357.3L213.0 357.3L213.3 357.3L213.7 357.3L214.1 357.3L214.5 357.3L214.9 357.3L215.4 357.3L215.8 357.3L216.3 357.3L216.8 357.3L217.4 357.3L217.9 357.3L218.4 357.3L219.0 357.3L219.6 357.3L220.2 357.3L220.8 357.3L221.4 357.3L222.0 357.3L222.6 357.3L223.2 357.3L223.8 357.3L224.5 357.3L225.1 357.3L225.7 357.3L226.3 357.3L226.9 357.3L227.5 357.3L228.2 357.3L228.8 357.3L229.4 357.3L229.9 357.3L230.5 357.3L231.1 357.3L231.6 357.3L232.1 357.3L232.7 357.3L233.2 357.3L233.7 357.3L234.1 357.3L234.6 357.3L235.0 357.3L235.4 357.3L235.8 357.3L236.1 357.3L236.4 357.3L236.7 357.3L237.0 357.3" fill="none" stroke="#00ff00" stroke-width="1.9" stroke-linejoin="round" stroke-linecap="round"/>
<path d="M61.5 239.5L61.7 239.2L61.9 238.7L62.2 238.2L62.5 237.5L62.7 237.1L62.9 236.6L63.0 236.1L63.2 235.5L63.4 235.0L63.6 234.5L63.8 234.0L64.0 233.5L64.2 232.9L64.4 232.4L64.6 231.9L64.8 231.5L65.0 231.0L65.3 230.4L65.6 229.9L65.9 229.4L66.2 228.9L66.5 228.5L67.0 228.1L67.5 227.8L68.0 227.7L68.5 227.7L69.0 227.9L69.5 228.3L69.9 228.7L70.4 229.2L70.8 229.7L71.2 230.2L71.5 230.5L71.9 231.4L72.4 232.3L72.8 233.2L73.2 234.1L73.6 235.1L74.1 236.0L74.5 236.9L74.9 237.8L75.3 238.7L75.7 239.7L76.0 240.6L76.4 241.5L76.8 242.5L77.2 243.4L77.6 244.3L77.9 245.3L78.3 246.2L78.6 247.1L79.0 248.1L79.4 249.0L79.7 250.0L80.1 250.9L80.4 251.9L80.7 252.8L81.1 253.8L81.4 254.7L81.8 255.7L82.1 256.6L82.4 257.6L82.8 258.5L83.1 259.5L83.4 260.4L83.7 261.4L84.1 262.3L84.4 263.3L84.7 264.2L85.0 265.2L85.3 266.1L85.7 267.1L86.0 268.0L86.3 269.0L86.6 270.0L86.9 270.9L87.2 271.9L87.6 272.8L87.9 273.8L88.2 274.7L88.5 275.7L88.8 276.6L89.2 277.6L89.5 278.6L89.8 279.5L90.1 280.5L90.4 281.4L90.8 282.4L91.1 283.3L91.4 284.3L91.7 285.2L92.1 286.2L92.4 287.1L92.7 288.1L93.1 289.0L93.4 290.0L93.8 290.9L94.1 291.9L94.4 292.8L94.8 293.8L95.1 294.7L95.5 295.6L95.9 296.6L96.2 297.5L96.6 298.5L97.0 299.4L97.3 300.3L97.7 301.3L98.1 302.2L98.5 303.1L98.9 304.1L99.3 305.0L99.6 305.9L100.0 306.8L100.5 307.8L100.9 308.7L101.3 309.6L101.7 310.5L102.1 311.4L102.6 312.3L103.0 313.2L103.4 314.1L103.9 315.0L104.4 315.9L104.8 316.8L105.3 317.7L105.8 318.6L106.2 319.5L106.7 320.4L107.2 321.2L107.7 322.1L108.2 323.0L108.7 323.9L109.3 324.7L109.8 325.6L110.3 326.4L110.9 327.3L111.4 328.1L112.0 328.9L112.6 329.8L113.1 330.6L113.7 331.4L114.3 332.2L114.9 333.1L115.5 333.9L116.1 334.7L116.7 335.4L117.4 336.2L118.0 337.0L118.7 337.8L119.3 338.5L120.0 339.3L120.7 340.0L121.3 340.8L122.0 341.5L122.7 342.3L123.4 343.0L124.1 343.7L124.9 344.4L125.6 345.1L126.3 345.8L127.1 346.4L127.8 347.1L128.6 347.8L129.4 348.4L130.1 349.1L130.9 349.7L131.7 350.3L132.5 350.9L133.3 351.5L134.1 352.1L134.9 352.7L135.8 353.3L136.6 353.8L137.4 354.4L138.3 354.9L139.1 355.5L140.0 356.0L140.3 356.2L140.6 356.4L141.1 356.6L141.6 356.9L142.2 357.1L143.0 357.3L143.4 357.3L143.7 357.4L144.1 357.4L144.4 357.4L144.8 357.4L145.2 357.4L145.6 357.4L146.1 357.4L146.6 357.4L147.2 357.4L147.8 357.4L148.5 357.4L149.2 357.4L150.0 357.4L150.4 357.4L150.8 357.4L151.2 357.4L151.7 357.4L152.2 357.4L152.7 357.4L153.2 357.4L153.8 357.4L154.3 357.4L154.9 357.4L155.5 357.4L156.1 357.4L156.7 357.4L157.3 357.4L157.9 357.4L158.5 357.4L159.1 357.4L159.7 357.4L160.3 357.4L160.9 357.4L161.5 357.4L162.1 357.4L162.6 357.4L163.2 357.4L163.7 357.4L164.2 357.4L164.6 357.4L165.1 357.4L165.5 357.4L165.9 357.4L166.2 357.4L166.5 357.4L166.8 357.4" fill="none" stroke="#ff0000" stroke-width="1.9" stroke-linejoin="round" stroke-linecap="round"/>
<path d="M57.8 231.5L57.9 231.2L58.0 230.7L58.1 230.2L58.2 229.6L58.4 229.0L58.5 228.5L58.7 227.9L58.9 227.4L59.1 226.9L59.3 226.4L59.5 226.0L59.9 225.6L60.4 225.3L60.8 225.2L61.4 225.3L62.0 225.8L62.4 226.1L62.7 226.5L63.1 227.0L63.5 227.5L63.8 228.0L64.1 228.5L64.3 229.1L64.6 229.7L64.8 230.2L65.0 230.5L65.3 231.5L65.6 232.4L65.8 233.4L66.1 234.4L66.4 235.3L66.7 236.3L66.9 237.3L67.2 238.2L67.4 239.2L67.7 240.2L68.0 241.2L68.2 242.1L68.5 243.1L68.7 244.1L69.0 245.1L69.2 246.0L69.5 247.0L69.7 248.0L69.9 249.0L70.2 249.9L70.4 250.9L70.7 251.9L70.9 252.9L71.1 253.9L71.4 254.8L71.6 255.8L71.9 256.8L72.1 257.8L72.3 258.7L72.6 259.7L72.8 260.7L73.1 261.7L73.3 262.6L73.5 263.6L73.8 264.6L74.0 265.6L74.3 266.6L74.5 267.5L74.8 268.5L75.0 269.5L75.2 270.5L75.5 271.4L75.8 272.4L76.0 273.4L76.3 274.4L76.5 275.3L76.8 276.3L77.0 277.3L77.3 278.2L77.6 279.2L77.8 280.2L78.1 281.1L78.4 282.1L78.7 283.1L78.9 284.1L79.2 285.0L79.5 286.0L79.8 286.9L80.1 287.9L80.4 288.9L80.7 289.8L81.0 290.8L81.3 291.7L81.6 292.7L81.9 293.7L82.2 294.6L82.6 295.6L82.9 296.5L83.2 297.5L83.6 298.4L83.9 299.4L84.2 300.3L84.6 301.2L84.9 302.2L85.3 303.1L85.7 304.1L86.1 305.0L86.4 305.9L86.8 306.9L87.2 307.8L87.6 308.7L88.0 309.6L88.4 310.6L88.8 311.5L89.2 312.4L89.7 313.3L90.1 314.2L90.5 315.1L91.0 316.0L91.5 316.9L91.9 317.8L92.4 318.7L92.9 319.6L93.3 320.5L93.8 321.3L94.3 322.2L94.9 323.1L95.4 323.9L95.9 324.8L96.4 325.6L97.0 326.5L97.5 327.3L98.1 328.2L98.7 329.0L99.2 329.8L99.8 330.6L100.4 331.4L101.0 332.2L101.7 333.0L102.3 333.8L102.9 334.6L103.6 335.4L104.2 336.1L104.9 336.9L105.6 337.6L106.3 338.4L107.0 339.1L107.7 339.8L108.4 340.5L109.1 341.2L109.8 341.9L110.6 342.6L111.4 343.2L112.1 343.9L112.9 344.5L113.7 345.1L114.5 345.7L115.3 346.3L116.1 346.9L116.9 347.5L117.8 348.1L118.6 348.6L119.5 349.1L120.3 349.7L121.2 350.2L122.1 350.7L123.0 351.1L123.9 351.6L124.8 352.0L125.7 352.5L126.6 352.9L127.5 353.3L128.5 353.7L129.4 354.0L130.3 354.4L131.3 354.7L132.2 355.0L133.2 355.4L134.1 355.7L135.1 355.9L136.1 356.2L137.1 356.4L138.0 356.7L139.0 356.9L140.0 357.1L140.4 357.1L140.9 357.2L141.5 357.2L142.1 357.2L142.6 357.3L143.0 357.3" fill="none" stroke="#000" stroke-width="1.9" stroke-linejoin="round" stroke-linecap="round"/>
<path d="M157.20 285.00C157.25 284.17 157.32 281.93 157.50 280.00C157.68 278.07 157.97 275.12 158.30 273.40C158.63 271.68 158.93 270.82 159.50 269.70C160.07 268.58 160.70 267.95 161.70 266.70C162.70 265.45 164.12 263.70 165.50 262.20C166.88 260.70 168.42 259.33 170.00 257.70C171.58 256.07 173.67 253.78 175.00 252.40C176.33 251.02 177.00 250.40 178.00 249.40C179.00 248.40 180.25 247.40 181.00 246.40C181.75 245.40 182.00 244.23 182.50 243.40C183.00 242.57 183.42 241.65 184.00 241.40C184.58 241.15 185.42 241.85 186.00 241.90C186.58 241.95 186.67 242.27 187.50 241.70C188.33 241.13 189.75 239.70 191.00 238.50C192.25 237.30 193.67 235.83 195.00 234.50C196.33 233.17 197.67 231.88 199.00 230.50C200.33 229.12 201.83 227.20 203.00 226.20C204.17 225.20 205.00 224.95 206.00 224.50C207.00 224.05 208.00 223.83 209.00 223.50C210.00 223.17 211.00 222.83 212.00 222.50C213.00 222.17 213.68 221.72 215.00 221.50C216.32 221.28 218.42 221.05 219.90 221.20C221.38 221.35 222.57 221.60 223.90 222.40C225.23 223.20 226.57 224.40 227.90 226.00C229.23 227.60 230.73 229.68 231.90 232.00C233.07 234.32 233.97 236.92 234.90 239.90C235.83 242.88 236.73 246.23 237.50 249.90C238.27 253.57 238.93 258.23 239.50 261.90C240.07 265.57 240.57 268.73 240.90 271.90C241.23 275.07 241.40 279.40 241.50 280.90" fill="none" stroke="#000" stroke-width="1.15" stroke-linejoin="round" stroke-linecap="round"/>
<path d="M157.20 266.00C157.22 265.37 156.92 263.08 157.30 262.20C157.68 261.32 158.63 261.58 159.50 260.70C160.37 259.82 161.25 258.27 162.50 256.90C163.75 255.53 165.50 253.98 167.00 252.50C168.50 251.02 170.17 249.25 171.50 248.00C172.83 246.75 173.75 246.10 175.00 245.00C176.25 243.90 177.67 242.73 179.00 241.40C180.33 240.07 181.67 238.32 183.00 237.00C184.33 235.68 185.67 234.58 187.00 233.50C188.33 232.42 189.67 231.50 191.00 230.50C192.33 229.50 193.67 228.33 195.00 227.50C196.33 226.67 197.67 226.08 199.00 225.50C200.33 224.92 201.83 224.58 203.00 224.00C204.17 223.42 205.00 222.67 206.00 222.00C207.00 221.33 208.00 220.37 209.00 220.00C210.00 219.63 211.00 219.75 212.00 219.80C213.00 219.85 214.02 220.10 215.00 220.30C215.98 220.50 216.92 220.38 217.90 221.00C218.88 221.62 220.07 222.33 220.90 224.00C221.73 225.67 222.23 228.35 222.90 231.00C223.57 233.65 224.23 236.92 224.90 239.90C225.57 242.88 226.23 247.73 226.90 248.90C227.57 250.07 228.23 247.40 228.90 246.90C229.57 246.40 230.23 245.90 230.90 245.90C231.57 245.90 232.23 245.90 232.90 246.90C233.57 247.90 234.23 249.57 234.90 251.90C235.57 254.23 236.33 257.90 236.90 260.90C237.47 263.90 237.87 267.07 238.30 269.90C238.73 272.73 239.30 276.57 239.50 277.90" fill="none" stroke="#ff0000" stroke-width="1.15" stroke-linejoin="round" stroke-linecap="round"/>
<path d="M157.20 276.00C157.33 274.82 157.62 270.70 158.00 268.90C158.38 267.10 158.88 266.82 159.50 265.20C160.12 263.58 161.08 260.95 161.70 259.20C162.32 257.45 162.77 255.07 163.20 254.70C163.63 254.33 163.67 257.12 164.30 257.00C164.93 256.88 165.80 255.25 167.00 254.00C168.20 252.75 170.17 250.67 171.50 249.50C172.83 248.33 173.75 248.18 175.00 247.00C176.25 245.82 177.67 243.90 179.00 242.40C180.33 240.90 181.83 239.15 183.00 238.00C184.17 236.85 185.17 236.08 186.00 235.50C186.83 234.92 187.17 235.25 188.00 234.50C188.83 233.75 190.00 232.08 191.00 231.00C192.00 229.92 193.17 228.67 194.00 228.00C194.83 227.33 195.17 227.33 196.00 227.00C196.83 226.67 197.83 226.33 199.00 226.00C200.17 225.67 201.83 225.33 203.00 225.00C204.17 224.67 205.00 224.42 206.00 224.00C207.00 223.58 208.00 222.87 209.00 222.50C210.00 222.13 211.17 221.88 212.00 221.80C212.83 221.72 213.28 222.05 214.00 222.00C214.72 221.95 215.65 220.83 216.30 221.50C216.95 222.17 217.30 223.92 217.90 226.00C218.50 228.08 219.40 232.33 219.90 234.00C220.40 235.67 220.40 235.83 220.90 236.00C221.40 236.17 222.33 234.83 222.90 235.00C223.47 235.17 223.87 235.35 224.30 237.00C224.73 238.65 225.07 242.08 225.50 244.90C225.93 247.72 226.33 250.57 226.90 253.90C227.47 257.23 228.40 261.57 228.90 264.90C229.40 268.23 229.57 271.73 229.90 273.90C230.23 276.07 230.63 276.40 230.90 277.90C231.17 279.40 231.40 282.07 231.50 282.90" fill="none" stroke="#00ff00" stroke-width="1.15" stroke-linejoin="round" stroke-linecap="round"/>
<path d="M344.2 123.2L345.1 123.6L346.0 124.0L347.0 124.4L347.9 124.7L348.8 125.1L349.8 125.4L350.8 125.7L351.7 126.0L352.7 126.2L353.7 126.5L354.6 126.8L355.6 127.1L356.5 127.4L357.5 127.6L358.5 128.0L359.4 128.3L360.4 128.6L361.3 128.9L362.2 129.3L363.2 129.6L364.1 130.0L365.0 130.4L366.0 130.7L366.9 131.1L367.8 131.6L368.7 132.0L369.6 132.4L370.5 132.8L371.4 133.3L372.3 133.8L373.2 134.3L374.0 134.8L374.9 135.4L375.7 136.0L376.4 136.6L377.2 137.3L377.9 138.0L378.6 138.7L379.2 139.5L379.8 140.3L380.3 141.2L380.9 142.0L381.4 142.9L381.9 143.8L382.4 144.6L382.9 145.5L383.3 146.4L383.9 147.2L384.4 148.1L384.9 148.9L385.5 149.7L386.1 150.5L386.8 151.3L387.4 152.1L388.1 152.8L388.8 153.5L389.6 154.2L390.3 154.9L391.1 155.5L391.9 156.1L392.7 156.7L393.5 157.3L394.4 157.8L395.2 158.4L396.1 158.9L396.9 159.4L397.7 160.0L398.6 160.5L399.4 161.1L400.3 161.6L401.1 162.2L401.9 162.7L402.8 163.3L403.6 163.9L404.4 164.5L405.2 165.1L405.9 165.8L406.7 166.5L407.4 167.2L408.1 167.9L408.7 168.6L409.4 169.4L410.0 170.2L410.5 171.0L411.1 171.9L411.6 172.7L412.1 173.6L412.6 174.5L413.1 175.4L413.5 176.3L413.9 177.2L414.4 178.1L414.7 179.0L415.1 179.9L415.5 180.9L415.9 181.8L416.2 182.7L416.6 183.7L416.9 184.6L417.3 185.6L417.6 186.5L417.9 187.5L418.3 188.4L418.6 189.3L418.9 190.3L419.3 191.2L419.6 192.2L420.0 193.1L420.3 194.1L420.7 195.0L421.0 195.9L421.4 196.9L421.7 197.8L422.1 198.7L422.5 199.7L422.8 200.6L423.2 201.5L423.6 202.5L424.0 203.4L424.4 204.3L424.8 205.2L425.2 206.1L425.6 207.1L426.0 208.0L426.5 208.9L426.9 209.8L427.3 210.7L427.8 211.6L428.2 212.5L428.7 213.4L429.2 214.3L429.6 215.1L430.1 216.0L430.6 216.9L431.1 217.8L431.6 218.6L432.1 219.5L432.7 220.3L433.2 221.2L433.7 222.0L434.3 222.9L434.9 223.7L435.4 224.5L436.0 225.4L436.6 226.2L437.2 227.0L437.8 227.8L438.4 228.5L439.1 229.3L439.7 230.1L440.4 230.8L441.0 231.6L441.7 232.3L442.4 233.0L443.2 233.7L443.9 234.4L444.7 235.1L445.4 235.7L446.2 236.3L447.0 236.9L447.8 237.5L448.7 238.0L449.5 238.6L450.4 239.1L451.3 239.5L452.2 240.0L453.1 240.4L454.0 240.8L454.9 241.2L455.9 241.6L456.8 241.9L457.8 242.3L458.7 242.6L459.7 242.9L460.6 243.2L461.6 243.4L462.6 243.7L463.5 244.0L464.5 244.2L465.5 244.5L466.5 244.7L467.4 244.9L468.4 245.2L469.4 245.4L470.4 245.6L471.4 245.8L472.3 246.0L473.3 246.1L474.3 246.3L475.3 246.5L476.3 246.6L477.3 246.8L478.3 246.9L479.3 247.1L480.3 247.2L481.3 247.3L482.3 247.5L483.3 247.6L484.2 247.7L485.2 247.8L486.2 247.9L487.2 248.0L488.2 248.0L489.2 248.1L490.2 248.2L491.2 248.3L492.2 248.3L493.2 248.4L494.3 248.4L495.3 248.5L496.3 248.5L497.3 248.6L498.3 248.6L499.3 248.7L500.3 248.7L501.3 248.8L502.3 248.8L503.3 248.8L504.3 248.9L505.3 248.9L506.3 248.9L507.3 249.0L508.3 249.0L509.3 249.1L510.3 249.1L511.3 249.1L512.3 249.2L513.3 249.2L514.3 249.3L515.3 249.3L516.3 249.4L517.3 249.5L518.3 249.5L519.3 249.6L520.3 249.7L521.3 249.7L522.3 249.8L523.3 249.9L524.3 250.0L524.6 250.0L524.9 250.0L525.3 250.0L525.7 250.0L526.1 250.0L526.6 250.0L527.1 250.1L527.7 250.1L528.2 250.1L528.8 250.1L529.4 250.1L530.0 250.1L530.7 250.1L531.3 250.1L531.9 250.2L532.5 250.2L533.2 250.2L533.8 250.2L534.4 250.2L535.0 250.2L535.5 250.2L536.1 250.2L536.6 250.3L537.1 250.3L537.5 250.3L537.9 250.3L538.3 250.3L538.6 250.3L538.9 250.3" fill="none" stroke="#00ff00" stroke-width="1.9" stroke-linejoin="round" stroke-linecap="round"/>
<path d="M341.2 119.5L342.2 119.5L343.2 119.6L344.2 119.7L345.2 119.8L346.2 120.0L347.2 120.2L348.1 120.4L349.1 120.6L350.1 120.9L351.0 121.2L352.0 121.6L352.9 121.9L353.8 122.3L354.7 122.7L355.6 123.2L356.5 123.7L357.3 124.2L358.2 124.8L359.0 125.4L359.8 126.0L360.5 126.6L361.2 127.3L361.9 128.1L362.6 128.8L363.2 129.6L363.7 130.4L364.2 131.3L364.7 132.2L365.2 133.1L365.6 134.0L365.9 134.9L366.3 135.9L366.6 136.8L366.9 137.8L367.2 138.7L367.4 139.7L367.7 140.7L367.9 141.6L368.2 142.6L368.4 143.6L368.7 144.5L368.9 145.5L369.1 146.5L369.4 147.5L369.6 148.4L369.9 149.4L370.2 150.3L370.5 151.3L370.8 152.2L371.1 153.2L371.5 154.1L371.9 155.0L372.3 155.9L372.8 156.8L373.3 157.7L373.8 158.6L374.4 159.4L375.0 160.2L375.6 161.0L376.2 161.7L376.9 162.4L377.7 163.1L378.4 163.8L379.2 164.4L380.0 165.0L380.8 165.5L381.7 166.1L382.5 166.6L383.4 167.2L384.2 167.7L385.1 168.2L385.9 168.8L386.7 169.4L387.5 170.0L388.3 170.6L389.0 171.3L389.7 172.0L390.4 172.8L391.0 173.5L391.6 174.3L392.1 175.2L392.7 176.0L393.2 176.9L393.6 177.8L394.0 178.7L394.4 179.6L394.8 180.5L395.2 181.5L395.5 182.4L395.9 183.4L396.2 184.3L396.5 185.3L396.8 186.2L397.1 187.2L397.4 188.1L397.7 189.1L398.0 190.0L398.2 191.0L398.5 192.0L398.8 192.9L399.1 193.9L399.4 194.8L399.7 195.8L400.0 196.7L400.3 197.7L400.6 198.6L401.0 199.6L401.3 200.5L401.6 201.5L401.9 202.4L402.3 203.4L402.6 204.3L402.9 205.2L403.3 206.2L403.6 207.1L404.0 208.1L404.4 209.0L404.7 209.9L405.1 210.8L405.5 211.8L405.9 212.7L406.3 213.6L406.7 214.5L407.1 215.4L407.6 216.3L408.0 217.2L408.4 218.1L408.9 219.0L409.4 219.9L409.9 220.8L410.3 221.6L410.8 222.5L411.4 223.4L411.9 224.2L412.4 225.1L413.0 225.9L413.5 226.7L414.1 227.5L414.7 228.3L415.3 229.1L415.9 229.9L416.6 230.7L417.2 231.5L417.9 232.2L418.6 232.9L419.3 233.7L420.0 234.4L420.7 235.0L421.4 235.7L422.2 236.4L423.0 237.0L423.8 237.6L424.6 238.2L425.4 238.8L426.2 239.3L427.1 239.8L428.0 240.3L428.8 240.8L429.7 241.2L430.6 241.7L431.6 242.1L432.5 242.4L433.4 242.8L434.4 243.1L435.3 243.4L436.3 243.7L437.3 243.9L438.2 244.1L439.2 244.4L440.2 244.6L441.2 244.8L442.2 244.9L443.2 245.1L444.1 245.2L445.1 245.4L446.1 245.5L447.1 245.6L448.1 245.8L449.1 245.9L450.1 246.0L451.1 246.0L452.1 246.1L453.1 246.2L454.1 246.3L455.1 246.4L456.1 246.5L457.1 246.5L458.1 246.6L459.1 246.7L460.1 246.8L461.1 246.8L462.1 246.9L463.1 247.0L464.1 247.1L465.1 247.2L466.1 247.3L467.0 247.4L468.0 247.5L469.0 247.6L470.0 247.6L471.0 247.7L472.0 247.8L473.0 247.9L474.0 248.0L475.0 248.1L476.0 248.2L477.0 248.2L478.0 248.3L479.0 248.4L480.0 248.5L481.0 248.5L482.0 248.6L483.0 248.6L484.0 248.7L485.0 248.7L486.0 248.8L487.0 248.8L488.0 248.8L489.0 248.8L490.0 248.9L491.0 248.9L492.0 248.9L493.0 248.9L494.0 248.8L495.0 248.8L495.3 248.8L495.7 248.8L496.2 248.8L496.7 248.8L497.3 248.8L498.0 248.8L498.6 248.8L499.3 248.9L499.9 248.9L500.6 248.9L501.2 248.9L501.7 248.9L502.2 248.9L502.6 248.9L502.9 248.9" fill="none" stroke="#ff0000" stroke-width="1.9" stroke-linejoin="round" stroke-linecap="round"/>
<text transform="translate(12.6,131.0) rotate(-90)" font-size="8.5" textLength="91.6" lengthAdjust="spacingAndGlyphs" >Surface pressure (mN/m)</text>
<text transform="translate(12.3,326.0) rotate(-90)" font-size="8.3" textLength="91.4" lengthAdjust="spacingAndGlyphs" >Surface pressure (mN/m)</text>
<text transform="translate(306.6,219.0) rotate(-90)" font-size="9.3" textLength="98.4" lengthAdjust="spacingAndGlyphs" >Surface pressure (mN/m)</text>
<text transform="translate(128.2,66.30) rotate(-90)" font-size="7.0" textLength="7.4" lengthAdjust="spacingAndGlyphs">Cs</text>
<text transform="translate(124.89999999999999,58.30) rotate(-90)" font-size="6.0" textLength="4.6" lengthAdjust="spacingAndGlyphs">-1</text>
<text transform="translate(128.2,51.90) rotate(-90)" font-size="7.0" textLength="22.0" lengthAdjust="spacingAndGlyphs">(mN/m)</text>
<text transform="translate(140.4,268.10) rotate(-90)" font-size="7.0" textLength="7.6" lengthAdjust="spacingAndGlyphs">Cs</text>
<text transform="translate(137.4,260.00) rotate(-90)" font-size="6.4" textLength="5.4" lengthAdjust="spacingAndGlyphs">-1</text>
<text transform="translate(140.4,252.40) rotate(-90)" font-size="7.0" textLength="23.6" lengthAdjust="spacingAndGlyphs">(mN/m)</text>
<text x="161.3" y="102.5" font-size="7.1" textLength="80" lengthAdjust="spacingAndGlyphs">Surface pressure (mN/m)</text>
<text x="166.0" y="301.7" font-size="7.1" textLength="80.2" lengthAdjust="spacingAndGlyphs">Surface pressure (mN/m)</text>
<text x="102.4" y="192.9" font-size="8.4" textLength="78.2" lengthAdjust="spacingAndGlyphs">Area per molecule (Å</text>
<text x="180.5" y="189.4" font-size="9.1">2</text>
<text x="186.1" y="192.9" font-size="8.4">)</text>
<text x="105.3" y="393.7" font-size="8.3" textLength="77.2" lengthAdjust="spacingAndGlyphs">Area per molecule (Å</text>
<text x="183.5" y="390.59999999999997" font-size="9.0">2</text>
<text x="188.6" y="393.7" font-size="8.3">)</text>
<text x="392.4" y="278.1" font-size="9.3" textLength="87.6" lengthAdjust="spacingAndGlyphs">Area per molecule (Å</text>
<text x="480.7" y="274.5" font-size="10.2">2</text>
<text x="487.0" y="278.1" font-size="9.3">)</text>
<text x="52.3" y="153.3" font-size="13" style="fill:#000;stroke:#000;stroke-width:0.6px">A</text>
<text x="52.3" y="352.8" font-size="12.5" style="fill:#111;stroke:#111;stroke-width:0.25px">B</text>
<text x="339.2" y="244.3" font-size="15" style="fill:#000;stroke:#000;stroke-width:0.15px">C</text>
</svg>
</body></html>
